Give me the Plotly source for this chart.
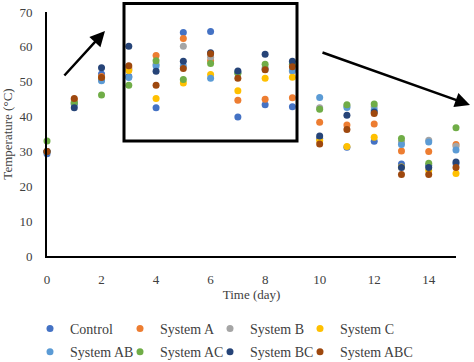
import plotly.graph_objects as go

days = list(range(16))
series_names = ["Control", "System A", "System B", "System C",
                "System AB", "System AC", "System BC", "System ABC"]
colors = ["#4472C4", "#ED7D31", "#A5A5A5", "#FFC000",
          "#5B9BD5", "#70AD47", "#264478", "#9E480E"]

control = [29.3, 43.5, 52.2, 51.5, 42.5, 64.1, 64.4, 39.9, 43.4, 42.8, 33.8, 31.2, 32.9, 26.4, 26.0, 26.5]
sys_a   = [30.0, 44.8, 51.5, 54.0, 57.5, 62.4, 56.0, 44.7, 45.0, 45.4, 38.4, 37.6, 37.9, 30.1, 30.0, 32.0]
sys_b   = [30.0, 44.2, 50.5, 53.5, 55.0, 60.2, 57.0, 52.5, 54.0, 53.0, 42.5, 43.0, 42.8, 32.8, 33.2, 31.5]
sys_c   = [30.0, 44.0, 51.0, 53.2, 45.2, 49.6, 52.1, 47.4, 51.0, 51.3, 33.1, 31.4, 34.1, 25.5, 24.5, 23.7]
sys_ab  = [30.0, 43.8, 50.3, 51.2, 54.5, 54.5, 51.0, 52.8, 53.5, 53.2, 45.5, 42.6, 41.9, 32.0, 32.7, 30.4]
sys_ac  = [33.0, 44.0, 46.2, 49.0, 56.0, 50.6, 55.2, 52.4, 55.0, 55.0, 42.1, 43.4, 43.6, 33.7, 26.6, 36.8]
sys_bc  = [30.0, 42.5, 54.0, 60.2, 53.0, 55.9, 58.3, 53.1, 57.9, 55.9, 34.4, 40.4, 41.3, 25.4, 25.4, 27.0]
sys_abc = [30.0, 45.2, 51.2, 54.6, 49.0, 53.8, 58.0, 51.0, 53.4, 54.3, 32.1, 36.3, 40.9, 23.4, 23.4, 25.4]

all_series = [control, sys_a, sys_b, sys_c, sys_ab, sys_ac, sys_bc, sys_abc]

x_ticks = [0, 2, 4, 6, 8, 10, 12, 14]
y_ticks = [0, 10, 20, 30, 40, 50, 60, 70]

font_family = "Times New Roman"
text_color = "#404040"

# Plot area in pixels: x 47..456, y 12..256
def px_x(p):
    return (p - 47) / 409.0

def px_y(p):
    return (256 - p) / 244.0

legend_ids = ["legend", "legend2", "legend3", "legend4"]

fig = go.Figure()
for i, (name, vals, col) in enumerate(zip(series_names, all_series, colors)):
    fig.add_trace(go.Scatter(
        x=days, y=vals, mode="markers", name=name,
        marker=dict(color=col, size=7),
        cliponaxis=False,
        legend=legend_ids[i % 4],
        legendgroup="g%d" % i,
    ))

# Highlight rectangle
fig.add_shape(type="rect", xref="paper", yref="paper",
              x0=px_x(124), x1=px_x(297), y0=px_y(141), y1=px_y(3.5),
              line=dict(color="black", width=3), fillcolor="rgba(0,0,0,0)")

# Arrows (tail offset in pixels from head)
fig.add_annotation(xref="paper", yref="paper",
                   x=px_x(105), y=px_y(31), ax=-42, ay=46,
                   showarrow=True, arrowhead=2, arrowsize=1.2, arrowwidth=2.5,
                   arrowcolor="black", text="")
fig.add_annotation(xref="paper", yref="paper",
                   x=px_x(470), y=px_y(105), ax=-149, ay=-53,
                   showarrow=True, arrowhead=2, arrowsize=1.2, arrowwidth=2.5,
                   arrowcolor="black", text="")

legend_common = dict(orientation="v", xanchor="left", yanchor="top",
                     itemwidth=30, tracegroupgap=2,
                     font=dict(family=font_family, size=14, color=text_color),
                     bgcolor="rgba(0,0,0,0)")
legend_x_px = [30, 120, 210, 300]

layout_legends = {}
for lid, lx in zip(legend_ids, legend_x_px):
    layout_legends[lid] = dict(x=px_x(lx), y=px_y(313), **legend_common)

fig.update_layout(
    width=474, height=362,
    margin=dict(l=47, r=18, t=12, b=106, autoexpand=False),
    paper_bgcolor="white", plot_bgcolor="white",
    font=dict(family=font_family, size=13, color=text_color),
    showlegend=True,
    xaxis=dict(range=[0, 15], tickvals=x_ticks, ticktext=[str(v) for v in x_ticks],
               showgrid=False, zeroline=False, showline=True, linecolor="black",
               linewidth=2, ticks="", ticklabelstandoff=10, automargin=False,
               title=dict(text="Time (day)", standoff=4,
                          font=dict(family=font_family, size=13, color=text_color)),
               tickfont=dict(family=font_family, size=13, color=text_color)),
    yaxis=dict(range=[0, 70], tickvals=y_ticks, ticktext=[str(v) for v in y_ticks],
               showgrid=False, zeroline=False, showline=True, linecolor="black",
               linewidth=2, ticks="", ticklabelstandoff=10, automargin=False,
               title=dict(text="Temperature (°C)", standoff=6,
                          font=dict(family=font_family, size=13, color=text_color)),
               tickfont=dict(family=font_family, size=13, color=text_color)),
    **layout_legends,
)

fig.write_html("out.html", config={"displayModeBar": False},
               post_script="document.body.style.margin='0';document.body.style.padding='0';")
